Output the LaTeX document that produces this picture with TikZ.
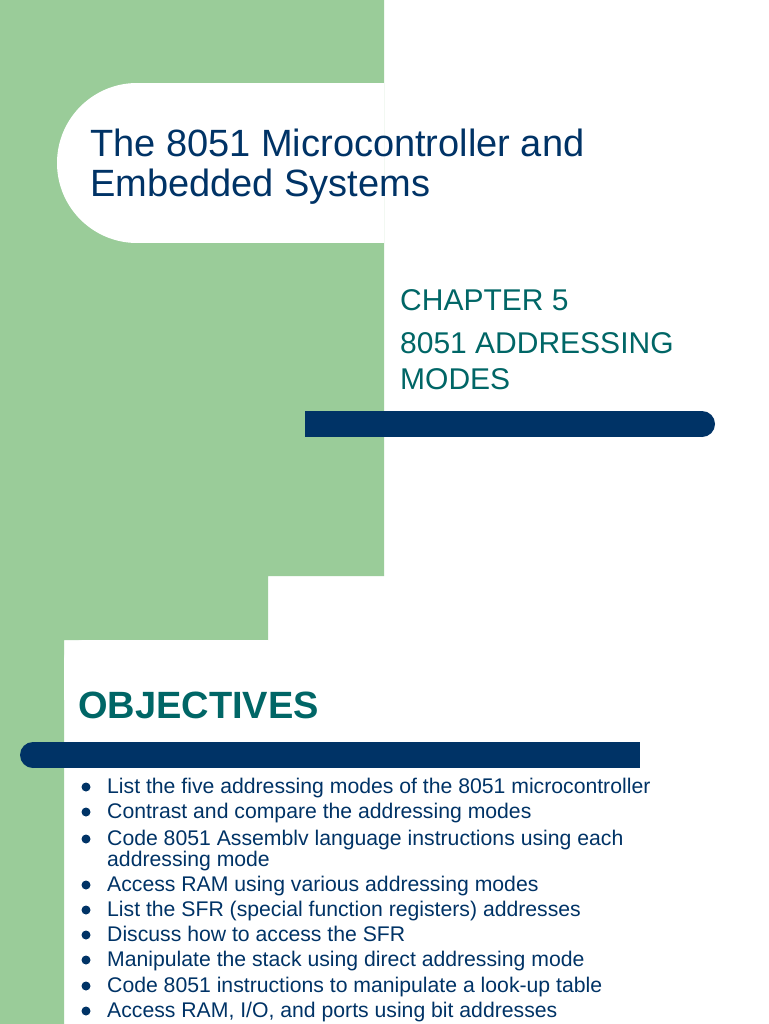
\documentclass[tikz,border=0pt]{standalone}
\usepackage{fontspec}
\setmainfont{Liberation Sans}
\definecolor{gr}{HTML}{9ACC99}
\definecolor{navy}{HTML}{003366}
\definecolor{teal2}{HTML}{006666}
\definecolor{txt}{HTML}{003366}
\begin{document}
\begin{tikzpicture}[x=1pt,y=-1pt,
  title/.style={anchor=base west,inner sep=0,text=navy,font=\fontsize{38}{40}\selectfont},
  chap/.style={anchor=base west,inner sep=0,text=teal2,font=\fontsize{30}{32}\selectfont},
  item/.style={anchor=base west,inner sep=0,text=txt,font=\fontsize{21.2}{22}\selectfont,align=left},
  dot/.style={circle,fill=txt,inner sep=0,minimum size=9pt}]
\useasboundingbox (0,0) rectangle (768,1024);
\fill[white] (0,0) rectangle (768,1024);
\fill[gr] (0,0) -- (384,0) -- (384,576) -- (268,576) -- (268,640) -- (64,640) -- (64,1024) -- (0,1024) -- cycle;
\fill[white] (84,640) rectangle (268,700);
\fill[white] (64,660) rectangle (268,700);
\fill[white] (84,660) circle[radius=20];
\fill[white] (137,83) rectangle (384,243);
\fill[white] (137,163) circle[radius=80];
\fill[navy] (305,411) rectangle (702,437);
\fill[navy] (702,424) circle[radius=13];
\fill[navy] (33,742) rectangle (640,768);
\fill[navy] (33,755) circle[radius=13];
\node[title] (t1) at (90,157) {The 8051 Microcontroller and};
\node[title] (t2) at (90,197) {Embedded Systems};
\node[chap] (c1) at (400,310) {CHAPTER 5};
\node[chap] (c2) at (400,353) {8051 ADDRESSING};
\node[chap] (c3) at (400,389) {MODES};
\node[anchor=base west,inner sep=0,text=teal2,font=\bfseries\fontsize{38}{40}\selectfont] (obj) at (78,718) {OBJECTIVES};
\node[dot] (b1) at (86,787) {}; \node[item] (i1) at (107,793) {List the five addressing modes of the 8051 microcontroller};
\node[dot] (b2) at (86,812) {}; \node[item] (i2) at (107,818) {Contrast and compare the addressing modes};
\node[dot] (b3) at (86,839) {}; \node[item] (i3) at (107,845) {Code 8051 Assemblv language instructions using each};
\node[item] (i3b) at (107,866) {addressing mode};
\node[dot] (b4) at (86,885) {}; \node[item] (i4) at (107,891) {Access RAM using various addressing modes};
\node[dot] (b5) at (86,910) {}; \node[item] (i5) at (107,916) {List the SFR (special function registers) addresses};
\node[dot] (b6) at (86,935) {}; \node[item] (i6) at (107,941) {Discuss how to access the SFR};
\node[dot] (b7) at (86,960) {}; \node[item] (i7) at (107,966) {Manipulate the stack using direct addressing mode};
\node[dot] (b8) at (86,986) {}; \node[item] (i8) at (107,992) {Code 8051 instructions to manipulate a look-up table};
\node[dot] (b9) at (86,1011) {}; \node[item] (i9) at (107,1017) {Access RAM, I/O, and ports using bit addresses};
\end{tikzpicture}
\end{document}
